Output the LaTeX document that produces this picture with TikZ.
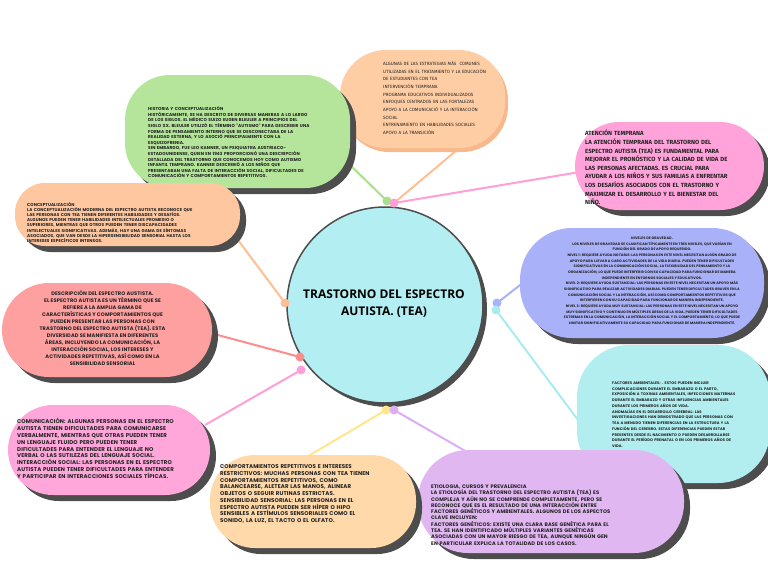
\documentclass[tikz,border=0pt]{standalone}
\usepackage{fontspec}
\usetikzlibrary{shadows}
\newfontfamily\popf{Poppins}[LetterSpace=2]
\newfontfamily\firaf{Fira Sans}
\newfontfamily\openf{Open Sans}
\definecolor{shd}{HTML}{4D4D4D}
\definecolor{txt}{HTML}{222222}
\definecolor{cgreen}{HTML}{B5E59A}
\definecolor{cpeachT}{HTML}{FFCDA3}
\definecolor{cpeachTs}{HTML}{F7B98C}
\definecolor{cpink}{HTML}{FFA3DA}
\definecolor{cblue}{HTML}{A9B1F8}
\definecolor{ccyan}{HTML}{B2EEF0}
\definecolor{cpurple}{HTML}{E1B7F2}
\definecolor{cpeachB}{HTML}{FFD9AA}
\definecolor{cpinkL}{HTML}{FFA6DA}
\definecolor{csalmon}{HTML}{FFA0A0}
\definecolor{cpeachL}{HTML}{FFC7A0}
\definecolor{ccenter}{HTML}{B2EEF2}
\definecolor{lgreen}{HTML}{A8E08C}
\definecolor{lpeach}{HTML}{FFBF94}
\definecolor{lpink}{HTML}{FF9ED8}
\definecolor{lsalmon}{HTML}{FF8C8C}
\definecolor{lyellow}{HTML}{FFE68A}
\definecolor{lpurple}{HTML}{DCAEF2}
\definecolor{lblue}{HTML}{A9B3FA}
\definecolor{lcyan}{HTML}{A8ECF0}
\newcommand\J[1]{\makebox[\hsize][s]{#1}}
\begin{document}
\begin{tikzpicture}[x=1pt,y=-1pt,
  bubbase/.style={draw=none, rectangle, inner sep=0pt},
  bub/.style={bubbase, drop shadow={shadow xshift=6pt, shadow yshift=-6pt, opacity=1, fill=shd}},
  conn/.style={line width=2pt},
  dotn/.style={circle, inner sep=0pt, minimum size=9pt, draw=none},
  tx/.style={anchor=north west, inner sep=0pt, align=left, text=txt},
  txc/.style={anchor=north, inner sep=0pt, align=center, text=txt},
]
\useasboundingbox (0,0) rectangle (768,576);
\clip (0,0) rectangle (768,576);

% connector end points on bubbles
\coordinate (eG) at (347,162);
\coordinate (ePT) at (457,150);
\coordinate (ePR) at (580,172);
\coordinate (ePL) at (232,232);
\coordinate (eS) at (214,334);
\coordinate (eKL) at (205,425);
\coordinate (eY) at (305,458);
\coordinate (eP) at (467,452);
\coordinate (eB) at (524,282);
\coordinate (eC) at (578,420);

% dots on circle
\coordinate (dG) at (387,201);
\coordinate (dK) at (394,203);
\coordinate (dPL) at (285,303);
\coordinate (dS) at (300,357);
\coordinate (dKL) at (301,370);
\coordinate (dY) at (386,410);
\coordinate (dP) at (394,410);
\coordinate (dB) at (497,303);
\coordinate (dC) at (496,310);

\draw[conn, draw=lgreen] (dG) -- (eG);
\draw[conn, draw=lpeach] (dK) -- (ePT);
\draw[conn, draw=lpink] (dK) -- (ePR);
\draw[conn, draw=lpeach] (dPL) -- (ePL);
\draw[conn, draw=lsalmon] (dS) -- (eS);
\draw[conn, draw=lpink] (dKL) -- (eKL);
\draw[conn, draw=lyellow] (dY) -- (eY);
\draw[conn, draw=lpurple] (dP) -- (eP);
\draw[conn, draw=lblue] (dB) -- (eB);
\draw[conn, draw=lcyan] (dC) -- (eC);

% bubbles
\node[bubbase, fill=cpeachT, drop shadow={shadow xshift=3pt, shadow yshift=-4pt, opacity=1, fill=cpeachTs}, minimum width=165pt, minimum height=98pt, rounded corners=46pt] (bpeachT) at (422.5,99) {};
\node[bub, fill=cgreen, minimum width=225pt, minimum height=113pt, rounded corners=45pt] (bgreen) at (237.5,131.5) {};
\node[bub, fill=cpeachL, minimum width=225pt, minimum height=63pt, rounded corners=30pt] (bpeachL) at (127.5,214.5) {};
\node[bub, fill=cpink, minimum width=189pt, minimum height=88pt, rounded corners=44pt] (bpink) at (669.5,166) {};
\node[bub, fill=cblue, minimum width=244pt, minimum height=110pt, rounded corners=52pt] (bblue) at (642,283) {};
\node[bub, fill=ccyan, minimum width=193pt, minimum height=138pt, rounded corners=52pt] (bcyan) at (673.5,414) {};
\node[bub, fill=cpurple, minimum width=266pt, minimum height=103pt, rounded corners=50pt] (bpurple) at (551,501.5) {};
\node[bub, fill=cpeachB, minimum width=206pt, minimum height=93pt, rounded corners=45pt] (bpeachB) at (313,501.5) {};
\node[bub, fill=cpinkL, minimum width=202pt, minimum height=90pt, rounded corners=45pt] (bpinkL) at (109,450) {};
\node[bub, fill=csalmon, minimum width=210pt, minimum height=94pt, rounded corners=47pt] (bsalmon) at (107,330) {};

% centre
\node[circle, fill=ccenter, draw=shd, line width=1.5pt, minimum size=196pt, inner sep=0pt,
  drop shadow={shadow xshift=4pt, shadow yshift=-4pt, opacity=1, fill=shd}] (centre) at (385,305) {};
\node[align=center, inner sep=0pt, text=black, font=\openf\bfseries\fontsize{12}{16.5}\selectfont] (title) at (384,303.5) {TRASTORNO DEL ESPECTRO\\AUTISTA. (TEA)};

\node[dotn, fill=lgreen] (nG) at (dG) {};
\node[dotn, fill=lpink] (nK) at (dK) {};
\node[dotn, fill=lpeach] (nPL) at (dPL) {};
\node[dotn, fill=lsalmon] (nS) at (dS) {};
\node[dotn, fill=lpink] (nKL) at (dKL) {};
\node[dotn, fill=lyellow] (nY) at (dY) {};
\node[dotn, fill=lpurple] (nP) at (dP) {};
\node[dotn, fill=lblue] (nB) at (dB) {};
\node[dotn, fill=lcyan] (nC) at (dC) {};

% texts
\node[tx, text width=177pt, font=\popf\bfseries\fontsize{4.3}{5.6}\selectfont] (tgreen) at (148,106.2) {%
HISTORIA Y CONCEPTUALIZACIÓN\\
\J{HISTÓRICAMENTE, SE HA DESCRITO DE DIVERSAS MANERAS A LO LARGO}\\
\J{DE LOS SIGLOS. EL MÉDICO SUIZO EUGEN BLEULER A PRINCIPIOS DEL}\\
\J{SIGLO XX. BLEULER UTILIZÓ EL TÉRMINO "AUTISMO" PARA DESCRIBIR UNA}\\
\J{FORMA DE PENSAMIENTO INTERNO QUE SE DESCONECTABA DE LA}\\
\J{REALIDAD EXTERNA, Y LO ASOCIÓ PRINCIPALMENTE CON LA}\\
ESQUIZOFRENIA.\\
\J{SIN EMBARGO, FUE LEO KANNER, UN PSIQUIATRA AUSTRIACO-}\\
\J{ESTADOUNIDENSE, QUIEN EN 1943 PROPORCIONÓ UNA DESCRIPCIÓN}\\
\J{DETALLADA DEL TRASTORNO QUE CONOCEMOS HOY COMO AUTISMO}\\
\J{INFANTIL TEMPRANO. KANNER DESCRIBIÓ A LOS NIÑOS QUE}\\
\J{PRESENTABAN UNA FALTA DE INTERACCIÓN SOCIAL, DIFICULTADES DE}\\
COMUNICACIÓN Y COMPORTAMIENTOS REPETITIVOS.};

\node[tx, text width=116pt, font=\firaf\fontsize{4.6}{7.7}\selectfont] (tpeachT) at (383,61) {%
\J{ALGUNAS DE LAS ESTRATEGIAS MÁS \ COMUNES}\\
\J{UTILIZADAS EN EL TRATAMIENTO Y LA EDUCACIÓN}\\
DE ESTUDIANTES CON TEA\\
INTERVENCIÓN TEMPRANA\\
PROGRAMA EDUCATIVOS INDIVIDUALIZADOS\\
ENFOQUES CENTRADOS EN LAS FORTALEZAS\\
\J{APOYO A LA COMUNICACIÓ Y LA INTERACCIÓN}\\
SOCIAL\\
ENTRENAMIENTO EN HABILIDADES SOCIALES\\
APOYO A LA TRANSICIÓN};

\node[tx, text width=165pt, font=\firaf\bfseries\fontsize{6}{8.6}\selectfont] (tpink) at (585,130) {%
ATENCIÓN TEMPRANA\\
\J{LA ATENCIÓN TEMPRANA DEL TRASTORNO DEL}\\
\J{ESPECTRO AUTISTA (TEA) ES FUNDAMENTAL PARA}\\
\J{MEJORAR EL PRONÓSTICO Y LA CALIDAD DE VIDA DE}\\
\J{LAS PERSONAS AFECTADAS. ES CRUCIAL PARA}\\
\J{AYUDAR A LOS NIÑOS Y SUS FAMILIAS A ENFRENTAR}\\
\J{LOS DESAFÍOS ASOCIADOS CON EL TRASTORNO Y}\\
\J{MAXIMIZAR EL DESARROLLO Y EL BIENESTAR DEL}\\
NIÑO.};

\node[txc, font=\popf\bfseries\fontsize{3.5}{5.67}\selectfont] (tblue) at (652,236.7) {%
NIVELES DE GRAVEDAD.\\
LOS NIVELES DE GRAVEDAD SE CLASIFICAN TÍPICAMENTE EN TRES NIVELES, QUE VARÍAN EN\\
FUNCIÓN DEL GRADO DE APOYO REQUERIDO.\\
NIVEL 1: REQUIERE AYUDA NOTABLE: LAS PERSONAS EN ESTE NIVEL NECESITAN ALGÚN GRADO DE\\
APOYO PARA LLEVAR A CABO ACTIVIDADES DE LA VIDA DIARIA. PUEDEN TENER DIFICULTADES\\
SIGNIFICATIVAS EN LA COMUNICACIÓN SOCIAL, LA FLEXIBILIDAD DEL PENSAMIENTO Y LA\\
ORGANIZACIÓN, LO QUE PUEDE INTERFERIR CON SU CAPACIDAD PARA FUNCIONAR DE MANERA\\
INDEPENDIENTE EN ENTORNOS SOCIALES Y EDUCATIVOS.\\
NIVEL 2: REQUIERE AYUDA SUSTANCIAL: LAS PERSONAS EN ESTE NIVEL NECESITAN UN APOYO MÁS\\
SIGNIFICATIVO PARA REALIZAR ACTIVIDADES DIARIAS. PUEDEN TENER DIFICULTADES GRAVES EN LA\\
COMUNICACIÓN SOCIAL Y LA INTERACCIÓN, ASÍ COMO COMPORTAMIENTOS REPETITIVOS QUE\\
INTERFIEREN CON SU CAPACIDAD PARA FUNCIONAR DE MANERA INDEPENDIENTE.\\
NIVEL 3: REQUIERE AYUDA MUY SUSTANCIAL: LAS PERSONAS EN ESTE NIVEL NECESITAN UN APOYO\\
MUY SIGNIFICATIVO Y CONTINUO EN MÚLTIPLES ÁREAS DE LA VIDA. PUEDEN TENER DIFICULTADES\\
EXTREMAS EN LA COMUNICACIÓN, LA INTERACCIÓN SOCIAL Y EL COMPORTAMIENTO, LO QUE PUEDE\\
LIMITAR SIGNIFICATIVAMENTE SU CAPACIDAD PARA FUNCIONAR DE MANERA INDEPENDIENTE.};

\node[tx, text width=138pt, font=\popf\bfseries\fontsize{3.7}{5.75}\selectfont] (tcyan) at (612,381.5) {%
\J{FACTORES AMBIENTALES: . ESTOS PUEDEN INCLUIR}\\
\J{COMPLICACIONES DURANTE EL EMBARAZO O EL PARTO,}\\
\J{EXPOSICIÓN A TOXINAS AMBIENTALES, INFECCIONES MATERNAS}\\
\J{DURANTE EL EMBARAZO Y OTRAS INFLUENCIAS AMBIENTALES}\\
DURANTE LOS PRIMEROS AÑOS DE VIDA.\\
\J{ANOMALÍAS EN EL DESARROLLO CEREBRAL: LAS}\\
\J{INVESTIGACIONES HAN DEMOSTRADO QUE LAS PERSONAS CON}\\
\J{TEA A MENUDO TIENEN DIFERENCIAS EN LA ESTRUCTURA Y LA}\\
\J{FUNCIÓN DEL CEREBRO. ESTAS DIFERENCIAS PUEDEN ESTAR}\\
\J{PRESENTES DESDE EL NACIMIENTO O PUEDEN DESARROLLARSE}\\
\J{DURANTE EL PERÍODO PRENATAL O EN LOS PRIMEROS AÑOS DE}\\
VIDA.};

\node[tx, text width=214pt, font=\popf\bfseries\fontsize{5.1}{6.3}\selectfont] (tpurple) at (431,484.6) {%
ETIOLOGIA, CURSOS Y PREVALENCIA\\
\J{LA ETIOLOGÍA DEL TRASTORNO DEL ESPECTRO AUTISTA (TEA) ES}\\
\J{COMPLEJA Y AÚN NO SE COMPRENDE COMPLETAMENTE, PERO SE}\\
\J{RECONOCE QUE ES EL RESULTADO DE UNA INTERACCIÓN ENTRE}\\
\J{FACTORES GENÉTICOS Y AMBIENTALES. ALGUNOS DE LOS ASPECTOS}\\
CLAVE INCLUYEN:\\
\J{FACTORES GENÉTICOS: EXISTE UNA CLARA BASE GENÉTICA PARA EL}\\
\J{TEA. SE HAN IDENTIFICADO MÚLTIPLES VARIANTES GENÉTICAS}\\
\J{ASOCIADAS CON UN MAYOR RIESGO DE TEA, AUNQUE NINGÚN GEN}\\
EN PARTICULAR EXPLICA LA TOTALIDAD DE LOS CASOS.};

\node[tx, text width=170pt, font=\popf\bfseries\fontsize{5.5}{6.75}\selectfont] (tpeachB) at (220,464.4) {%
\J{COMPORTAMIENTOS REPETITIVOS E INTERESES}\\
\J{RESTRICTIVOS: MUCHAS PERSONAS CON TEA TIENEN}\\
\J{COMPORTAMIENTOS REPETITIVOS, COMO}\\
\J{BALANCEARSE, ALETEAR LAS MANOS, ALINEAR}\\
OBJETOS O SEGUIR RUTINAS ESTRICTAS.\\
\J{SENSIBILIDAD SENSORIAL: LAS PERSONAS EN EL}\\
\J{ESPECTRO AUTISTA PUEDEN SER HÍPER O HIPO}\\
\J{SENSIBLES A ESTÍMULOS SENSORIALES COMO EL}\\
SONIDO, LA LUZ, EL TACTO O EL OLFATO.};

\node[tx, text width=170pt, font=\popf\bfseries\fontsize{5.5}{6.8}\selectfont] (tpinkL) at (17,418.4) {%
\J{COMUNICACIÓN: ALGUNAS PERSONAS EN EL ESPECTRO}\\
\J{AUTISTA TIENEN DIFICULTADES PARA COMUNICARSE}\\
\J{VERBALMENTE, MIENTRAS QUE OTRAS PUEDEN TENER}\\
\J{UN LENGUAJE FLUIDO PERO PUEDEN TENER}\\
\J{DIFICULTADES PARA ENTENDER EL LENGUAJE NO}\\
VERBAL O LAS SUTILEZAS DEL LENGUAJE SOCIAL.\\
\J{INTERACCIÓN SOCIAL: LAS PERSONAS EN EL ESPECTRO}\\
\J{AUTISTA PUEDEN TENER DIFICULTADES PARA ENTENDER}\\
Y PARTICIPAR EN INTERACCIONES SOCIALES TÍPICAS.};

\node[txc, font=\popf\bfseries\fontsize{5.1}{7}\selectfont] (tsalmon) at (102.5,290.6) {%
DESCRIPCIÓN DEL ESPECTRO AUSTISTA.\\
EL ESPECTRO AUTISTA ES UN TÉRMINO QUE SE\\
REFIERE A LA AMPLIA GAMA DE\\
CARACTERÍSTICAS Y COMPORTAMIENTOS QUE\\
PUEDEN PRESENTAR LAS PERSONAS CON\\
TRASTORNO DEL ESPECTRO AUTISTA (TEA). ESTA\\
DIVERSIDAD SE MANIFIESTA EN DIFERENTES\\
ÁREAS, INCLUYENDO LA COMUNICACIÓN, LA\\
INTERACCIÓN SOCIAL, LOS INTERESES Y\\
ACTIVIDADES REPETITIVAS, ASÍ COMO EN LA\\
SENSIBILIDAD SENSORIAL};

\node[tx, text width=193pt, font=\popf\bfseries\fontsize{4.2}{5.1}\selectfont] (tpeachL) at (27,202.2) {%
CONCEPTUALIZACIÓN\\
\J{LA CONCEPTUALIZACIÓN MODERNA DEL ESPECTRO AUTISTA RECONOCE QUE}\\
\J{LAS PERSONAS CON TEA TIENEN DIFERENTES HABILIDADES Y DESAFÍOS.}\\
\J{ALGUNOS PUEDEN TENER HABILIDADES INTELECTUALES PROMEDIO O}\\
\J{SUPERIORES, MIENTRAS QUE OTROS PUEDEN TENER DISCAPACIDADES}\\
\J{INTELECTUALES SIGNIFICATIVAS. ADEMÁS, HAY UNA GAMA DE SÍNTOMAS}\\
\J{ASOCIADOS, QUE VAN DESDE LA HIPERSENSIBILIDAD SENSORIAL HASTA LOS}\\
INTERESES ESPECÍFICOS INTENSOS.};
\end{tikzpicture}
\end{document}
